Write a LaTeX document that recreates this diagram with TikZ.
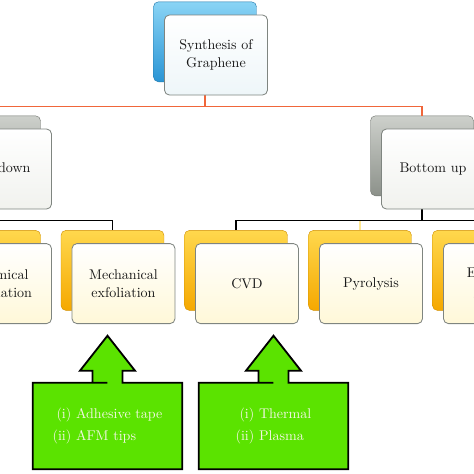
\documentclass[tikz,border=0pt]{standalone}
\usepackage{xcolor}
\usepackage{tikz}
\usetikzlibrary{arrows.meta}
\usetikzlibrary{shapes}
\usetikzlibrary{positioning}
\usetikzlibrary{backgrounds}
\definecolor{bluetop}{HTML}{8AD4F5}
\definecolor{bluebot}{HTML}{2A95D5}
\definecolor{graytop}{HTML}{CDD0CB}
\definecolor{graybot}{HTML}{8C918A}
\definecolor{yellowtop}{HTML}{FFD84D}
\definecolor{yellowbot}{HTML}{F5A800}
\definecolor{frontblue}{HTML}{EEF6F9}
\definecolor{frontgray}{HTML}{F1F2EE}
\definecolor{frontyellow}{HTML}{FFF8D8}
\definecolor{boxedge}{HTML}{7F8580}
\definecolor{orangeline}{HTML}{F0663A}
\definecolor{lime}{HTML}{5BE300}
\definecolor{cream}{HTML}{F2F6E2}
\tikzset{%
  every box/.style={
    rectangle,
    rounded corners=3.5pt,
    minimum width=2.575cm,
    minimum height=2cm,
    align=center,
    font=\fontsize{10}{13}\selectfont
  },
  blue back/.style={every box, top color=bluetop, bottom color=bluebot, draw=bluebot!80!black, line width=0.3pt},
  gray back/.style={every box, top color=graytop, bottom color=graybot, draw=graybot!80!black, line width=0.3pt},
  yellow back/.style={every box, top color=yellowtop, bottom color=yellowbot, draw=yellowbot!85!black, line width=0.3pt},
  front/.style={every box, draw=boxedge, line width=0.6pt, top color=white, bottom color=#1, text=black!90},
  bus line/.style={draw=black, line width=1pt},
  green text/.style={
    align=left,
    text=cream,
    font=\fontsize{10}{15.5}\selectfont,
    minimum width=3.725cm,
    minimum height=2.15cm
  },
  green arrow/.style={fill=lime, draw=black, line width=1.3pt, line join=miter},
}
\begin{document}
\begin{tikzpicture}
    \useasboundingbox (0,0) rectangle (11.85,-11.85);
    \clip (0,0) rectangle (11.85,-11.85);

    % back boxes
    \node (synthb) [xshift=5.125cm,yshift=-1.045cm,blue back] {};
    \node (tdownb) [xshift=-0.275cm,yshift=-3.895cm,gray back] {};
    \node (bupb) [xshift=10.55cm,yshift=-3.895cm,gray back] {};
    \node (chemb) [xshift=-0.275cm,yshift=-6.76cm,yellow back] {};
    \node (mechb) [xshift=2.8125cm,yshift=-6.76cm,yellow back] {};
    \node (cvdb) [xshift=5.9cm,yshift=-6.76cm,yellow back] {};
    \node (pyrob) [xshift=9cm,yshift=-6.76cm,yellow back] {};
    \node (epib) [xshift=12.1cm,yshift=-6.76cm,yellow back] {};

    % connectors
    \draw [orangeline, line width=1pt] (synthb.south) -- ++(0,-0.615) -| (tdownb.north);
    \draw [orangeline, line width=1pt] (synthb.south) -- ++(0,-0.615) -| (bupb.north);
    \draw [yellowtop!60!white, line width=0.8pt] (bupb.south) -- ++(0,-0.605) -| (pyrob.north);
    \draw [bus line] (tdownb.south) -- ++(0,-0.605) -| (chemb.north);
    \draw [bus line] (tdownb.south) -- ++(0,-0.605) -| (mechb.north);
    \draw [bus line] (bupb.south) -- ++(0,-0.605) -| (cvdb.north);
    \draw [bus line] (bupb.south) -- ++(0,-0.605) -| (epib.north);
    \draw [bus line, line width=2pt] (bupb.south) -- ++(0,-0.605);

    % front boxes
    \node (synth) [xshift=5.4cm,yshift=-1.375cm,front=frontblue] {Synthesis of\\Graphene};
    \node (tdown) [xshift=0cm,yshift=-4.225cm,front=frontgray] {Top down};
    \node (bup) [xshift=10.825cm,yshift=-4.225cm,front=frontgray] {Bottom up};
    \node (chem) [xshift=0cm,yshift=-7.09cm,front=frontyellow] {Chemical\\exfoliation};
    \node (mech) [xshift=3.0875cm,yshift=-7.09cm,front=frontyellow] {Mechanical\\exfoliation};
    \node (cvd) [xshift=6.175cm,yshift=-7.09cm,front=frontyellow] {CVD};
    \node (pyro) [xshift=9.275cm,yshift=-7.09cm,front=frontyellow] {Pyrolysis};
    \node (epi) [xshift=12.375cm,yshift=-7.09cm,front=frontyellow] {Epitaxial\\growth};

    % green arrows
    \node (tape) [xshift=2.6875cm,yshift=-10.65cm,green text]
    {\phantom{i}(i) Adhesive tape\\(ii) AFM tips};
    \node (therm) [xshift=6.8375cm,yshift=-10.65cm,green text]
    {\phantom{i}(i) Thermal\\(ii) Plasma};
    \begin{scope}[on background layer]
      \foreach \n in {tape,therm}
        \draw [green arrow] (\n.north) -- ++(-0.375,0) -- ++(0,0.3) -- ++(-0.3125,0)
          -- ++(0.6875,0.875) -- ++(0.6875,-0.875) -- ++(-0.3125,0) -- ++(0,-0.3)
          -- (\n.north east) -- (\n.south east) -- (\n.south west) -- (\n.north west) -- cycle;
    \end{scope}
\end{tikzpicture}
\end{document}
